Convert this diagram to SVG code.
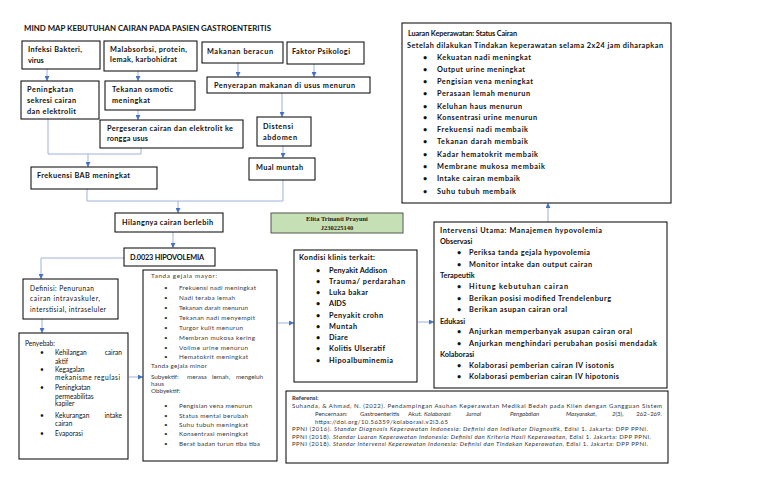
<svg xmlns="http://www.w3.org/2000/svg" width="768" height="489" viewBox="0 0 768 489">
<defs>
<marker id="ah" markerWidth="5" markerHeight="5" refX="5" refY="2.5" orient="auto" markerUnits="userSpaceOnUse">
<path d="M0,0 L5,2.5 L0,5 z" fill="#4472c4"/>
</marker>
<style>
.box{fill:#fff;stroke:#000;stroke-width:1}
.c{fill:none;stroke:#9db3dd;stroke-width:1}
.a{fill:none;stroke:#9db3dd;stroke-width:1;marker-end:url(#ah)}
text{font-family:Lato,"Liberation Sans",sans-serif}
.t{font-size:7.5px;font-weight:700;fill:#111}
.b{font-size:7.3px;font-weight:700;fill:#111}
.d{font-size:6.6px;fill:#111}
.g{font-size:6.3px;fill:#3a3a3a}
.r{font-size:6px;fill:#333}
.i{font-style:italic}
.n{font-family:"Liberation Serif",serif;font-size:6.5px;font-weight:700;fill:#222}
</style>
</defs>
<rect width="768" height="489" fill="#fff"/>
<text class="t" x="24" y="30.5" textLength="247" lengthAdjust="spacingAndGlyphs">MIND MAP KEBUTUHAN CAIRAN PADA PASIEN GASTROENTERITIS</text>

<g id="connectors">
<path class="a" d="M24,44 H37"/>
<path class="a" d="M47,69 V81"/>
<path class="a" d="M138,71 V81"/>
<path class="a" d="M138,110 V120"/>
<path class="a" d="M238,63 V77"/>
<path class="a" d="M314,64 V77"/>
<path class="a" d="M282,93 V117"/>
<path class="a" d="M283,146 V158"/>
<path class="c" d="M48,119 V154 H141 V148"/>
<path class="a" d="M88,154 V167"/>
<path class="c" d="M87,189 V201 H283 V180"/>
<path class="a" d="M178,201 V213"/>
<path class="a" d="M173,232 V248"/>
<path class="a" d="M124,258 H41 V279"/>
<path class="a" d="M42,319 V333"/>
<path class="a" d="M129,377 H143"/>
<path class="a" d="M278,323 H294"/>
<path class="a" d="M418,322 H434"/>
<path class="a" d="M548,222 V203"/>
</g>

<g id="infeksi">
<rect class="box" x="22" y="41" width="78" height="28"/>
<text class="b" x="28" y="51.5" textLength="54" lengthAdjust="spacing">Infeksi Bakteri,</text>
<text class="b" x="28" y="62.5">virus</text>
</g>
<g id="malabsorbsi">
<rect class="box" x="104" y="41" width="93" height="30"/>
<text class="b" x="110" y="51.5" textLength="77" lengthAdjust="spacing">Malabsorbsi, protein,</text>
<text class="b" x="110" y="62" textLength="67" lengthAdjust="spacing">lemak, karbohidrat</text>
</g>
<g id="makanan">
<rect class="box" x="202" y="42" width="81" height="21"/>
<text class="b" x="207" y="53.5" textLength="66" lengthAdjust="spacing">Makanan beracun</text>
</g>
<g id="faktor">
<rect class="box" x="287" y="42" width="77" height="22"/>
<text class="b" x="292" y="53.5" textLength="58" lengthAdjust="spacing">Faktor Psikologi</text>
</g>
<g id="penyerapan">
<rect class="box" x="207" y="77" width="163" height="16"/>
<text class="b" x="214" y="88" textLength="141" lengthAdjust="spacing">Penyerapan makanan di usus menurun</text>
</g>
<g id="distensi">
<rect class="box" x="257" y="117" width="54" height="29"/>
<text class="b" x="263" y="128.5" textLength="30" lengthAdjust="spacing">Distensi</text>
<text class="b" x="263" y="139.5" textLength="34" lengthAdjust="spacing">abdomen</text>
</g>
<g id="mual">
<rect class="box" x="249" y="158" width="66" height="22"/>
<text class="b" x="256" y="169.5" textLength="47" lengthAdjust="spacing">Mual muntah</text>
</g>
<g id="peningkatan">
<rect class="box" x="21" y="81" width="78" height="38"/>
<text class="b" x="27" y="91.5" textLength="46" lengthAdjust="spacing">Peningkatan</text>
<text class="b" x="27" y="102.5" textLength="49" lengthAdjust="spacing">sekresi cairan</text>
<text class="b" x="27" y="113.5" textLength="49" lengthAdjust="spacing">dan elektrolit</text>
</g>
<g id="tekanan">
<rect class="box" x="105" y="81" width="90" height="29"/>
<text class="b" x="112" y="91.5" textLength="61" lengthAdjust="spacing">Tekanan osmotic</text>
<text class="b" x="112" y="102.5" textLength="38" lengthAdjust="spacing">meningkat</text>
</g>
<g id="pergeseran">
<rect class="box" x="100" y="120" width="143" height="28"/>
<text class="b" x="107" y="130.5" textLength="126" lengthAdjust="spacing">Pergeseran cairan dan elektrolit ke</text>
<text class="b" x="107" y="140.5" textLength="41" lengthAdjust="spacing">rongga usus</text>
</g>
<g id="frekuensi">
<rect class="box" x="31" y="167" width="126" height="22"/>
<text class="b" x="37" y="177.5" textLength="93" lengthAdjust="spacing">Frekuensi BAB meningkat</text>
</g>
<g id="hilangnya">
<rect class="box" x="115" y="213" width="108" height="19"/>
<text class="b" x="122" y="224.5" textLength="91" lengthAdjust="spacing">Hilangnya cairan berlebih</text>
</g>
<g id="hipovolemia">
<rect class="box" x="124" y="248" width="91" height="18"/>
<text class="b" x="130" y="259.5" textLength="74" lengthAdjust="spacing">D.0023 HIPOVOLEMIA</text>
</g>
<g id="nama">
<rect x="271" y="213" width="132" height="20" fill="#c5e0b4" stroke="#555" stroke-width="1"/>
<text class="n" x="337" y="221" text-anchor="middle">Elita Trinanti Prayuni</text>
<text class="n" x="337" y="230" text-anchor="middle">J230225140</text>
</g>
<g id="definisi">
<rect class="box" x="23" y="279" width="95" height="40"/>
<text class="d" x="30" y="290.5" textLength="64" lengthAdjust="spacing">Definisi: Penurunan</text>
<text class="d" x="30" y="300.5" textLength="70" lengthAdjust="spacing">cairan intravaskuler,</text>
<text class="d" x="30" y="311.5" textLength="76" lengthAdjust="spacing">interstisial, intraseluler</text>
</g>
<g id="penyebab">
<rect class="box" x="19" y="333" width="109" height="126"/>
<text class="d" x="25" y="345.5">Penyebab:</text>
<text class="d" x="40" y="355.3">•</text>
<text class="d" x="55" y="355.3">Kehilangan</text>
<text class="d" x="122" y="355.3" text-anchor="end">cairan</text>
<text class="d" x="55" y="364.3">aktif</text>
<text class="d" x="40" y="372.3">•</text>
<text class="d" x="55" y="372.3">Kegagalan</text>
<text class="d" x="55" y="380.3" textLength="65" lengthAdjust="spacing">mekanisme regulasi</text>
<text class="d" x="40" y="390.3">•</text>
<text class="d" x="55" y="390.3">Peningkatan</text>
<text class="d" x="55" y="399.3">permeabilitas</text>
<text class="d" x="55" y="406.3">kapiler</text>
<text class="d" x="40" y="418.3">•</text>
<text class="d" x="55" y="418.3">Kekurangan</text>
<text class="d" x="122" y="418.3" text-anchor="end">intake</text>
<text class="d" x="55" y="426.3">cairan</text>
<text class="d" x="40" y="436.3">•</text>
<text class="d" x="55" y="436.3">Evaporasi</text>
</g>
<g id="tanda">
<rect class="box" x="143" y="270" width="134" height="191"/>
<text class="g" x="151" y="278" textLength="66" lengthAdjust="spacing">Tanda gejala mayor:</text>
<text class="g" x="164" y="290">•</text><text class="g" x="179" y="290" textLength="77" lengthAdjust="spacing">Frekuensi nadi meningkat</text>
<text class="g" x="164" y="300">•</text><text class="g" x="179" y="300" textLength="56" lengthAdjust="spacing">Nadi teraba lemah</text>
<text class="g" x="164" y="310">•</text><text class="g" x="179" y="310" textLength="69" lengthAdjust="spacing">Tekanan darah menurun</text>
<text class="g" x="164" y="320">•</text><text class="g" x="179" y="320" textLength="76" lengthAdjust="spacing">Tekanan nadi menyempit</text>
<text class="g" x="164" y="329.5">•</text><text class="g" x="179" y="329.5" textLength="64" lengthAdjust="spacing">Turgor kulit menurun</text>
<text class="g" x="164" y="339.5">•</text><text class="g" x="179" y="339.5" textLength="76" lengthAdjust="spacing">Membran mukosa kering</text>
<text class="g" x="164" y="349.5">•</text><text class="g" x="179" y="349.5" textLength="69" lengthAdjust="spacing">Volime urine menurun</text>
<text class="g" x="164" y="359">•</text><text class="g" x="179" y="359" textLength="69" lengthAdjust="spacing">Hematokrit meningkat</text>
<text class="g" x="151" y="368" textLength="56" lengthAdjust="spacing">Tanda gejala minor</text>
<text class="g" x="151" y="379">Subyektif:</text>
<text class="g" x="187" y="379">merasa</text>
<text class="g" x="212" y="379">lemah,</text>
<text class="g" x="263" y="379" text-anchor="end">mengeluh</text>
<text class="g" x="151" y="386">haus</text>
<text class="g" x="151" y="393">Obbyektif:</text>
<text class="g" x="164" y="408">•</text><text class="g" x="179" y="408" textLength="73" lengthAdjust="spacing">Pengisian vena menurun</text>
<text class="g" x="164" y="418">•</text><text class="g" x="179" y="418" textLength="69" lengthAdjust="spacing">Status mental berubah</text>
<text class="g" x="164" y="427">•</text><text class="g" x="179" y="427" textLength="69" lengthAdjust="spacing">Suhu tubuh meningkat</text>
<text class="g" x="164" y="436">•</text><text class="g" x="179" y="436" textLength="69" lengthAdjust="spacing">Konsentrasi meningkat</text>
<text class="g" x="164" y="446">•</text><text class="g" x="179" y="446" textLength="81" lengthAdjust="spacing">Berat badan turun tiba tiba</text>
</g>
<g id="kondisi">
<rect class="box" x="294" y="250" width="123" height="132"/>
<text class="b" x="299" y="259.5" textLength="76" lengthAdjust="spacing">Kondisi klinis terkait:</text>
<text class="b" x="316" y="272.5">•</text><text class="b" x="329" y="272.5" textLength="58" lengthAdjust="spacing">Penyakit Addison</text>
<text class="b" x="316" y="283.5">•</text><text class="b" x="329" y="283.5" textLength="76" lengthAdjust="spacing">Trauma/ perdarahan</text>
<text class="b" x="316" y="294.5">•</text><text class="b" x="329" y="294.5" textLength="39" lengthAdjust="spacing">Luka bakar</text>
<text class="b" x="316" y="305.5">•</text><text class="b" x="329" y="305.5" textLength="17" lengthAdjust="spacing">AIDS</text>
<text class="b" x="316" y="317.5">•</text><text class="b" x="329" y="317.5" textLength="54" lengthAdjust="spacing">Penyakit crohn</text>
<text class="b" x="316" y="328.5">•</text><text class="b" x="329" y="328.5" textLength="28" lengthAdjust="spacing">Muntah</text>
<text class="b" x="316" y="339.5">•</text><text class="b" x="329" y="339.5" textLength="19" lengthAdjust="spacing">Diare</text>
<text class="b" x="316" y="350.5">•</text><text class="b" x="329" y="350.5" textLength="56" lengthAdjust="spacing">Kolitis Ulseratif</text>
<text class="b" x="316" y="362.5">•</text><text class="b" x="329" y="362.5" textLength="64" lengthAdjust="spacing">Hipoalbuminemia</text>
</g>
<g id="intervensi">
<rect class="box" x="434" y="222" width="233" height="166"/>
<text class="b" x="440" y="232.5" textLength="162" lengthAdjust="spacing">Intervensi Utama: Manajemen hypovolemia</text>
<text class="b" x="440" y="243.5">Observasi</text>
<text class="b" x="457" y="254.5">•</text><text class="b" x="469" y="254.5" textLength="121" lengthAdjust="spacing">Periksa tanda gejala hypovolemia</text>
<text class="b" x="457" y="266.5">•</text><text class="b" x="469" y="266.5" textLength="123" lengthAdjust="spacing">Monitor intake dan output cairan</text>
<text class="b" x="440" y="277.5">Terapeutik</text>
<text class="b" x="457" y="288.5">•</text><text class="b" x="469" y="288.5" textLength="99" lengthAdjust="spacing">Hitung kebutuhan cairan</text>
<text class="b" x="457" y="300.5">•</text><text class="b" x="469" y="300.5" textLength="142" lengthAdjust="spacing">Berikan posisi modified Trendelenburg</text>
<text class="b" x="457" y="311.5">•</text><text class="b" x="469" y="311.5" textLength="98" lengthAdjust="spacing">Berikan asupan cairan oral</text>
<text class="b" x="440" y="323.5">Edukasi</text>
<text class="b" x="457" y="333.5">•</text><text class="b" x="469" y="333.5" textLength="163" lengthAdjust="spacing">Anjurkan memperbanyak asupan cairan oral</text>
<text class="b" x="457" y="345.5">•</text><text class="b" x="469" y="345.5" textLength="188" lengthAdjust="spacing">Anjurkan menghindari perubahan posisi mendadak</text>
<text class="b" x="440" y="356.5">Kolaborasi</text>
<text class="b" x="457" y="367.5">•</text><text class="b" x="469" y="367.5" textLength="145" lengthAdjust="spacing">Kolaborasi pemberian cairan IV isotonis</text>
<text class="b" x="457" y="378.5">•</text><text class="b" x="469" y="378.5" textLength="150" lengthAdjust="spacing">Kolaborasi pemberian cairan IV hipotonis</text>
</g>
<g id="luaran">
<rect class="box" x="402" y="23" width="269" height="180"/>
<text class="b" x="408" y="35.5" textLength="109" lengthAdjust="spacing">Luaran Keperawatan: Status Cairan</text>
<text class="b" x="407" y="47.5" textLength="256" lengthAdjust="spacing">Setelah dilakukan Tindakan keperawatan selama 2x24 jam diharapkan</text>
<text class="b" x="423" y="59.5">•</text><text class="b" x="437" y="59.5" textLength="94" lengthAdjust="spacing">Kekuatan nadi meningkat</text>
<text class="b" x="423" y="71.5">•</text><text class="b" x="437" y="71.5" textLength="88" lengthAdjust="spacing">Output urine meningkat</text>
<text class="b" x="423" y="83.5">•</text><text class="b" x="437" y="83.5" textLength="96" lengthAdjust="spacing">Pengisian vena meningkat</text>
<text class="b" x="423" y="95.5">•</text><text class="b" x="437" y="95.5" textLength="93" lengthAdjust="spacing">Perasaan lemah menurun</text>
<text class="b" x="423" y="108.5">•</text><text class="b" x="437" y="108.5" textLength="85" lengthAdjust="spacing">Keluhan haus menurun</text>
<text class="b" x="423" y="119.5">•</text><text class="b" x="437" y="119.5" textLength="100" lengthAdjust="spacing">Konsentrasi urine menurun</text>
<text class="b" x="423" y="131.5">•</text><text class="b" x="437" y="131.5" textLength="91" lengthAdjust="spacing">Frekuensi nadi membaik</text>
<text class="b" x="423" y="143.5">•</text><text class="b" x="437" y="143.5" textLength="91" lengthAdjust="spacing">Tekanan darah membaik</text>
<text class="b" x="423" y="156.5">•</text><text class="b" x="437" y="156.5" textLength="101" lengthAdjust="spacing">Kadar hematokrit membaik</text>
<text class="b" x="423" y="168.5">•</text><text class="b" x="437" y="168.5" textLength="108" lengthAdjust="spacing">Membrane mukosa membaik</text>
<text class="b" x="423" y="180.5">•</text><text class="b" x="437" y="180.5" textLength="83" lengthAdjust="spacing">Intake cairan membaik</text>
<text class="b" x="423" y="193.5">•</text><text class="b" x="437" y="193.5" textLength="79" lengthAdjust="spacing">Suhu tubuh membaik</text>
</g>
<g id="referensi">
<rect class="box" x="286" y="391" width="382" height="72"/>
<text class="r" x="292" y="400" font-weight="700">Referensi:</text>
<text class="r" x="292" y="408" textLength="370" lengthAdjust="spacing">Suhanda, &amp; Ahmad, N. (2022). Pendampingan Asuhan Keperawatan Medikal Bedah pada Klien dengan Gangguan Sistem</text>
<text class="r" y="416"><tspan x="315">Pencernaan:</tspan><tspan x="360">Gastroenteritis</tspan><tspan x="408">Akut.</tspan><tspan class="i" x="424">Kolaborasi:</tspan><tspan class="i" x="466">Jurnal</tspan><tspan class="i" x="510">Pengabdian</tspan><tspan class="i" x="566">Masyarakat</tspan><tspan>,</tspan><tspan class="i" x="612">2</tspan><tspan>(3),</tspan></text>
<text class="r" x="662" y="416" text-anchor="end">262–269.</text>
<text class="r" x="315" y="424" textLength="133" lengthAdjust="spacing">https://doi.org/10.56359/kolaborasi.v2i3.65</text>
<text class="r" x="292" y="431" textLength="356" lengthAdjust="spacing">PPNI (2016). <tspan class="i">Standar Diagnosis Keperawatan Indonesia: Definisi dan Indikator Diagnostik</tspan>, Edisi 1. Jakarta: DPP PPNI.</text>
<text class="r" x="292" y="439" textLength="359" lengthAdjust="spacing">PPNI (2018). <tspan class="i">Standar Luaran Keperawatan Indonesia: Definisi dan Kriteria Hasil Keperawatan</tspan>, Edisi 1. Jakarta: DPP PPNI.</text>
<text class="r" x="292" y="446" textLength="356" lengthAdjust="spacing">PPNI (2018). <tspan class="i">Standar Intervensi Keperawatan Indonesia: Definisi dan Tindakan Keperawatan</tspan>, Edisi 1. Jakarta: DPP PPNI.</text>
</g>
</svg>
